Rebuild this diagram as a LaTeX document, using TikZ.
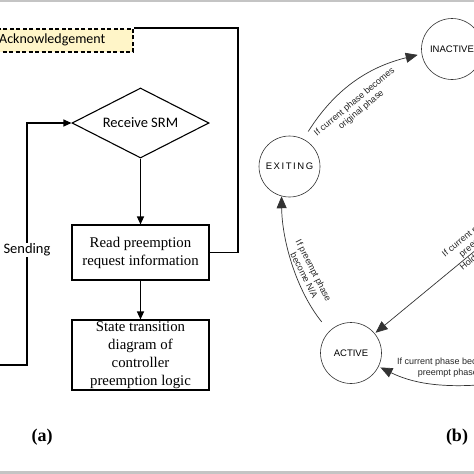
\documentclass[tikz,border=0pt]{standalone}
\usepackage{fontspec}
\setmainfont{Liberation Serif}
\newfontfamily\calibfont{Carlito}
\newfontfamily\arialfont{Liberation Sans}
\usetikzlibrary{shapes.geometric,arrows.meta,positioning}
\definecolor{ackyellow}{HTML}{FFF5C8}
\definecolor{bargray}{HTML}{C4C4C4}
\begin{document}
\begin{tikzpicture}[x=1pt,y=-1pt,
    flow/.style={draw, line width=1.1pt, -{Triangle[length=8pt,width=7pt]}},
    link/.style={draw, line width=1.1pt},
    box/.style={draw, line width=1.1pt, minimum width=137pt, inner sep=0pt, align=center, font=\fontsize{14.8}{18}\selectfont},
    decision/.style={draw, diamond, line width=1.1pt, minimum width=137pt, minimum height=70pt, inner sep=0pt, aspect=2, font=\calibfont\fontsize{14.5}{16}\selectfont},
    state/.style={draw=black!80, circle, line width=0.6pt, minimum size=61pt, inner sep=0pt, font=\arialfont\fontsize{9.5}{10}\selectfont},
    trans/.style={draw=black!80, line width=0.7pt, -{Triangle[length=12pt,width=10pt]}},
    cond/.style={font=\arialfont\fontsize{9}{10.5}\selectfont, align=center, inner sep=1pt, text=black!85},
    tag/.style={font=\bfseries\fontsize{18}{20}\selectfont}]
  \useasboundingbox (0,0) rectangle (474,474);
  \clip (0,0) rectangle (474,474);
  \fill[bargray] (0,0) rectangle (474,2);
  \fill[bargray] (0,471) rectangle (474,474);

  \node (ack) [draw, fill=ackyellow, line width=1.6pt, dash pattern=on 4pt off 2.5pt, text width=131pt, inner xsep=3pt, minimum height=23pt, align=left, anchor=north east, font=\calibfont\fontsize{14}{16}\selectfont] at (134,28) {Acknowledgement};
  \node (srm) [decision] at (140.5,123) {Receive SRM};
  \node (read) [box, minimum height=55pt] at (140.5,252.5) {Read preemption\\request information};
  \node (logic) [box, minimum height=70pt] at (140.5,355) {State transition\\diagram of\\controller\\preemption logic};
  \coordinate (ackturn) at (238,28);
  \coordinate (sendin) at (-5,365);
  \coordinate (sendturn) at (27,123);

  \draw[flow] (srm) -- (read);
  \draw[flow] (read) -- (logic);
  \draw[link] (read.east) -| (ackturn) -- (ack.north east);
  \draw[flow] (sendin) -| (sendturn) -- (srm.west);
  \node (sending) [fill=white, inner sep=1pt, font=\calibfont\fontsize{14.5}{16}\selectfont] at (27,250) {Sending};

  \node (inactive) [state] at (452,49) {INACTIVE};
  \node (exiting) [state] at (289.5,166.5) {E\,X\,I\,T\,I\,N\,G};
  \node (active) [state] at (351,353) {ACTIVE};
  \coordinate (holdin) at (505,226);
  \coordinate (backin) at (500,383);

  \draw[trans, shorten <=9pt, shorten >=4pt] (exiting.63) to[bend left=22] (inactive);
  \draw[trans, shorten <=12pt] (active.135) .. controls (296,290) and (282,240) .. (exiting.255);
  \draw[trans, shorten >=1pt] (holdin) -- (active)
    node[cond, sloped, pos=0.4, anchor=south west] {If current phase is not\\preempt phase}
    node[cond, sloped, pos=0.37, anchor=north west] {Hold green};
  \draw[trans, shorten >=2pt] (backin) .. controls (440,390) and (410,382) .. (active);
  \node (upcond) [cond, rotate=40] at (358,106) {If current phase becomes\\original phase};
  \node (downcond) [cond, rotate=-63] at (309,273) {If preempt phase\\become N/A};
  \node (backcond) [cond, anchor=north west] at (396,357) {If current phase becomes\\preempt phase};

  \node (taga) [tag] at (42,437) {(a)};
  \node (tagb) [tag] at (457,437) {(b)};
\end{tikzpicture}
\end{document}
